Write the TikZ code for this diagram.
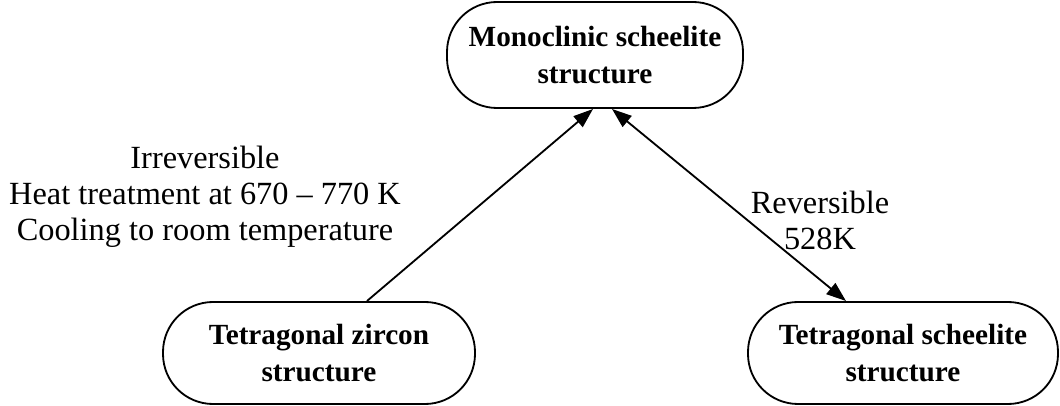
\documentclass[tikz,border=0pt]{standalone}
\usepackage{fontspec}
\setmainfont{Liberation Serif}
\usetikzlibrary{arrows.meta}
\begin{document}
\begin{tikzpicture}[x=0.025cm,y=-0.025cm,
  box/.style={draw,line width=1.3pt,rounded corners=1.25cm,align=center,font=\fontsize{20.8}{26.5}\selectfont\bfseries,inner sep=0pt},
  lbl/.style={align=center,font=\fontsize{23}{25.6}\selectfont},
  arr/.style={line width=1.3pt,-{Triangle[length=14pt,width=10pt]}}]
\useasboundingbox (0,0) rectangle (1060,406);
\node[box,minimum width=296*0.025cm,minimum height=106*0.025cm] (m) at (595,55) {Monoclinic scheelite\\structure};
\node[box,minimum width=312*0.025cm,minimum height=102*0.025cm] (z) at (319,353) {Tetragonal zircon\\structure};
\node[box,minimum width=310*0.025cm,minimum height=102*0.025cm] (s) at (903,353) {Tetragonal scheelite\\structure};
\coordinate (a1) at (367,301);
\coordinate (a2) at (593,109);
\coordinate (b1) at (612,109);
\coordinate (b2) at (846,301);
\draw[arr] (a1) -- (a2);
\draw[arr,{Triangle[length=14pt,width=10pt]}-{Triangle[length=14pt,width=10pt]}] (b1) -- (b2);
\node[lbl] (t1) at (205,197) {Irreversible\\Heat treatment at 670 -- 770 K\\Cooling to room temperature};
\node[lbl] (t2) at (820,220) {Reversible\\528K};
\end{tikzpicture}
\end{document}
